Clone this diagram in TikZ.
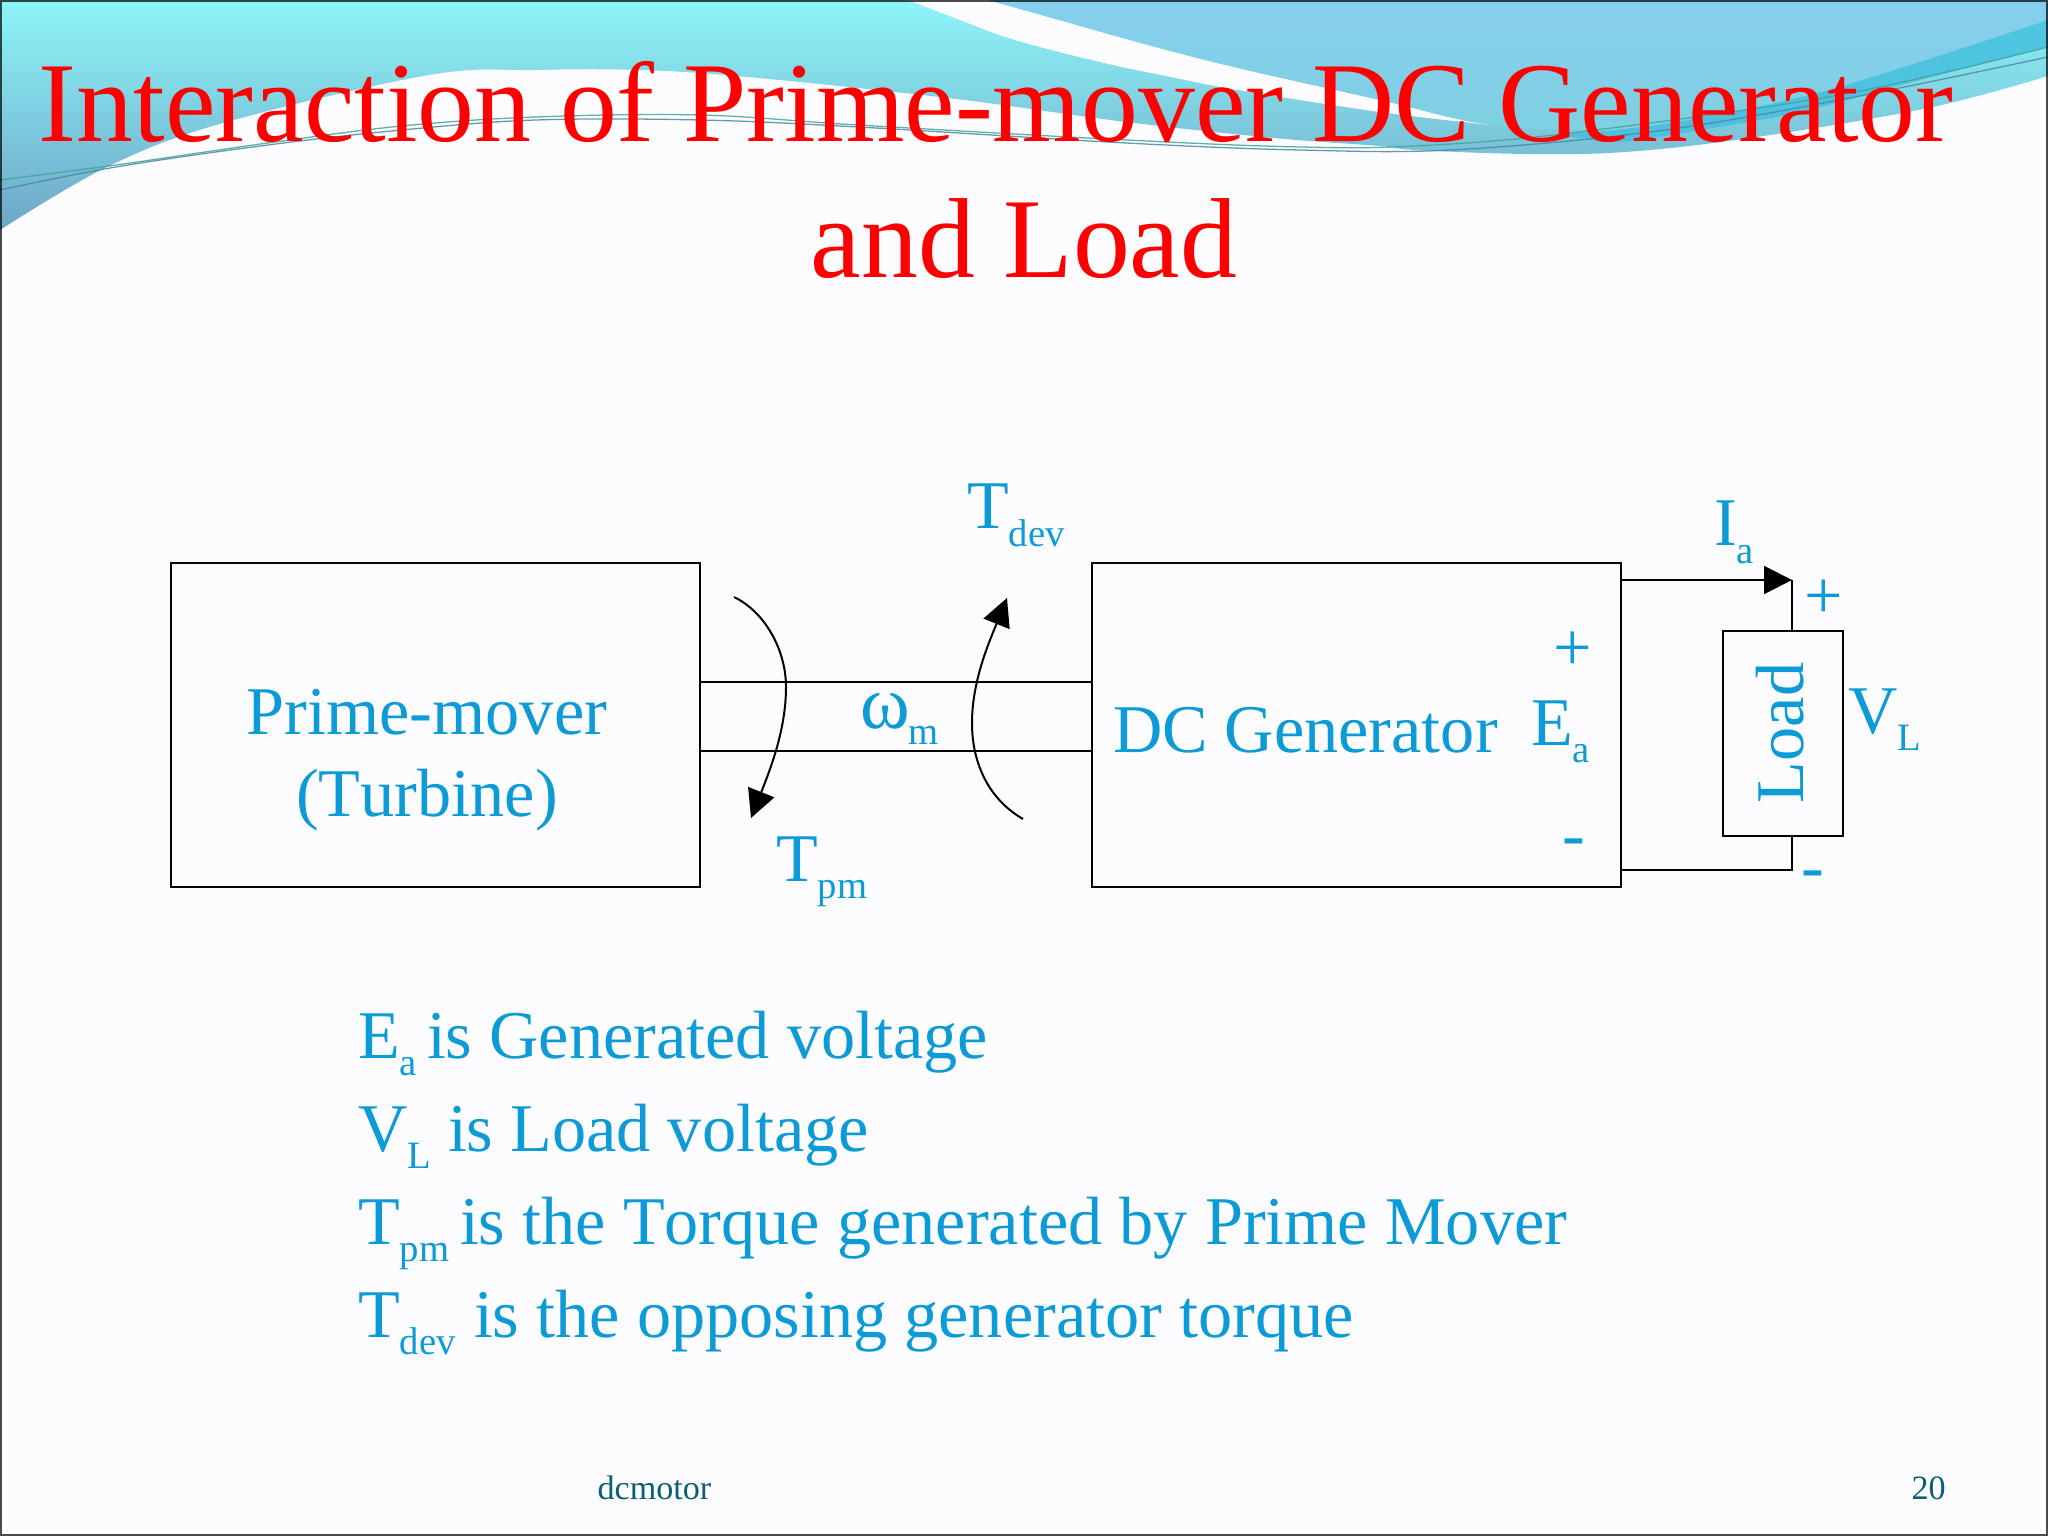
\documentclass[tikz,border=0pt]{standalone}
\usepackage{fontspec}
\setmainfont{Liberation Serif}
\usetikzlibrary{arrows.meta}
\definecolor{pagebg}{HTML}{FCFCFE}
\definecolor{bodyblue}{HTML}{0D9BD7}
\definecolor{footteal}{HTML}{0B5F72}
\definecolor{cyantop}{HTML}{8EF5F8}
\definecolor{cyanmid}{HTML}{7FD3E5}
\definecolor{cyanlow}{HTML}{6EA6C6}
\definecolor{bluetop}{HTML}{86CEEE}
\definecolor{bluelow}{HTML}{7FD0E2}
\definecolor{bandblue}{HTML}{45BFDE}
\definecolor{linegreen}{HTML}{3FA598}
\definecolor{lineblue}{HTML}{4A87A5}
\newdimen\pxu \pxu=0.3515625pt
\newcommand{\sbx}[1]{\raisebox{-6.2pt}{\fontsize{13.6}{14}\selectfont #1}}
\newcommand{\lead}[3]{\makebox[#1\pxu][l]{#2\sbx{#3}}}
\tikzset{
  wire/.style={draw=black,line width=0.7pt},
  blockbox/.style={wire,rectangle,inner sep=0pt,minimum width=529\pxu,minimum height=324\pxu},
  headtip/.style={-{Triangle[length=9.8pt,width=9.8pt]}},
  body/.style={text=bodyblue,font=\fontsize{24}{28.8}\selectfont,inner sep=0pt,outer sep=0pt},
  lab/.style={body,anchor=base west},
  mid/.style={body,anchor=base},
  titlet/.style={text=red,font=\fontsize{40}{48}\selectfont,inner sep=0pt,anchor=base},
  foot/.style={text=footteal,font=\fontsize{12}{14}\selectfont,inner sep=0pt,anchor=base west},
}
\begin{document}
\begin{tikzpicture}[x=0.3515625pt,y=-0.3515625pt]
\useasboundingbox (0,0) rectangle (2048,1536);
\fill[pagebg] (0,0) rectangle (2048,1536);
% cyan swoosh
\shade[top color=cyantop,middle color=cyanmid,bottom color=cyanlow]
  (0,0) -- (2048,0) -- (2048,76) -- plot[smooth,tension=.6] coordinates
  {(2048,76) (1928,108) (1750,138) (1625,152) (1527,154) (1415,150) (1380,146) (1274,138) (1126,122) (948,98) (747,77) (640,70) (536,70) (429,75) (223,123) (107,167) (0,230)} -- cycle;
% white band
\fill[pagebg] (908,0) -- plot[smooth,tension=.6] coordinates {(908,0) (960,20) (1015,40) (1100,62) (1171,77) (1238,90) (1380,112) (1491,125)}
  -- plot[smooth,tension=.6] coordinates {(1491,125) (1380,100) (1238,68) (1148,45) (1059,20) (988,0)} -- cycle;
% blue field
\shade[top color=bluetop,bottom color=bluelow]
  (988,0) -- plot[smooth,tension=.6] coordinates {(988,0) (1059,20) (1148,45) (1238,68) (1380,100) (1491,125) (1616,130) (1705,117) (1839,87) (2048,20)} -- (2048,0) -- cycle;
% darker band
\fill[bandblue,opacity=.85] (1560,134) -- plot[smooth,tension=.6] coordinates {(1560,134) (1616,130) (1705,117) (1839,87) (2048,20)}
  -- (2048,47) -- plot[smooth,tension=.6] coordinates {(2048,47) (1928,78) (1800,112) (1700,130) (1616,142) (1560,134)} -- cycle;
% thin lines
\draw[linegreen,line width=.45pt,opacity=.85] plot[smooth,tension=.6] coordinates {(0,180) (116,165) (268,143) (402,126) (536,117) (700,115) (858,125) (1126,140) (1300,147) (1415,146) (1571,133) (1839,95) (2048,47)};
\draw[lineblue,line width=.45pt,opacity=.85] plot[smooth,tension=.6] coordinates {(0,190) (116,167) (268,145) (402,130) (536,120) (700,120) (858,127) (1126,143) (1300,150) (1450,150) (1650,132) (1839,100) (2048,57)};
% frame
\draw[black,opacity=.7,line width=1.1pt] (0,0) rectangle (2048,1536);
% title
\node[titlet] (title1) at (996,142) {Interaction of Prime-mover DC Generator};
\node[titlet] (title2) at (1024,278) {and Load};
% blocks
\node[blockbox] (pm) at (435.5,725) {};
\node[blockbox] (gen) at (1356.5,725) {};
\node[wire,rectangle,inner sep=0pt,minimum width=120\pxu,minimum height=205\pxu] (load) at (1783,733.5) {};
\node[body,anchor=base,align=center] (pmt1) at (427,735) {Prime-mover};
\node[body,anchor=base,align=center] (pmt2) at (427,816) {(\hbox{T}urbine)};
\node[lab] (gent) at (1113,752) {DC Generator};
\node[mid,rotate=90] (loadt) at (1803,733) {Load};
% shaft
\coordinate (sa) at (0,682);
\coordinate (sb) at (0,751);
\draw[wire] (pm.east |- sa) -- (gen.west |- sa);
\draw[wire] (pm.east |- sb) -- (gen.west |- sb);
% torque arrows
\coordinate (tpa) at (734,597); \coordinate (tpb) at (786,687); \coordinate (tpc) at (751,818);
\draw[wire,headtip] (tpa) .. controls (765,612) and (786,650) .. (tpb) .. controls (786,730) and (770,770) .. (tpc);
\coordinate (tda) at (1023,819); \coordinate (tdb) at (972,723); \coordinate (tdc) at (1007,598);
\draw[wire,headtip] (tda) .. controls (990,800) and (972,765) .. (tdb) .. controls (972,680) and (990,640) .. (tdc);
% load wires
\coordinate (wt) at (1792,580);
\coordinate (wb) at (1792,870);
\draw[wire,headtip] (gen.east |- wt) -- (wt);
\draw[wire] (wt) -- (load.north -| wt);
\draw[wire] (load.south -| wt) -- (wb) -- (gen.east |- wb);
% labels
\node[lab] (wm) at (860,727) {\raisebox{-0.7pt}{\fontsize{26.5}{28}\selectfont ω}\kern-0.4pt\sbx{m}};
\node[lab] (tdev) at (967,529) {T\sbx{dev}};
\node[lab] (tpm) at (776,881) {T\sbx{pm}};
\node[lab] (ea) at (1531,745) {E\sbx{a}};
\node[mid] (eplus) at (1573,670) {+};
\node[mid] (eminus) at (1574,857) {-};
\node[mid] (lplus) at (1824,618) {+};
\node[mid] (lminus) at (1813,889) {-};
\node[lab] (ia) at (1714,546) {I\sbx{a}};
\node[lab] (vl) at (1848,733) {V\sbx{L}};
% list
\node[lab] (l1) at (358,1058) {\lead{69}{E}{a}is Generated voltage};
\node[lab] (l2) at (358,1151) {\lead{90}{V}{L}is Load voltage};
\node[lab] (l3) at (358,1244) {\lead{102}{T}{pm}is the \hbox{T}orque generated by Prime Mover};
\node[lab] (l4) at (358,1337) {\lead{116}{T}{dev}is the opposing generator torque};
% footer
\node[foot] (f1) at (597,1499) {dcmotor};
\node[foot] (f2) at (1911,1499) {20};
\end{tikzpicture}
\end{document}
